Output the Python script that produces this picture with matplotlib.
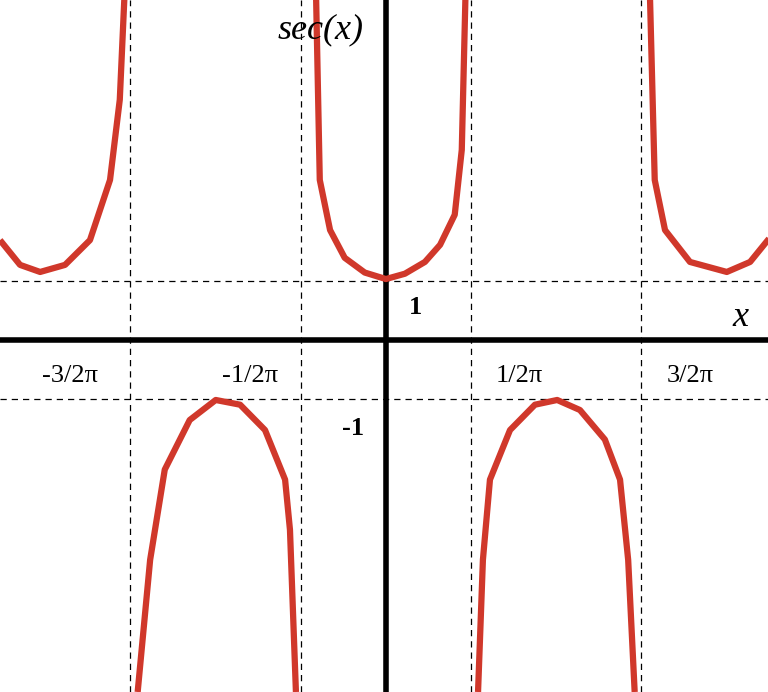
import numpy as np
import matplotlib.pyplot as plt

# branches of the curve (x in radians)
left_up_x = [-7.12, -6.75, -6.38, -5.92, -5.46, -5.09, -4.91, -4.82]
left_up_y = [1.69, 1.27, 1.15, 1.27, 1.69, 2.71, 4.07, 5.9]
mid_up_x = [-1.29, -1.22, -1.03, -0.76, -0.39, 0.0, 0.35, 0.72, 1.00, 1.27, 1.40, 1.47]
mid_up_y = [5.9, 2.71, 1.86, 1.39, 1.14, 1.03, 1.12, 1.32, 1.61, 2.12, 3.22, 5.9]
right_up_x = [4.87, 4.96, 5.15, 5.61, 6.29, 6.72, 7.10]
right_up_y = [5.9, 2.71, 1.86, 1.32, 1.15, 1.32, 1.75]
left_lo_x = [-4.58, -4.35, -4.08, -3.62, -3.14, -2.69, -2.23, -1.86, -1.77, -1.66]
left_lo_y = [-5.97, -3.73, -2.20, -1.36, -1.02, -1.10, -1.53, -2.37, -3.22, -5.97]
right_lo_x = [1.70, 1.79, 1.92, 2.29, 2.75, 3.16, 3.58, 4.04, 4.32, 4.47, 4.59]
right_lo_y = [-5.97, -3.73, -2.37, -1.53, -1.10, -1.02, -1.19, -1.69, -2.37, -3.73, -5.97]

asymptotes = [-3 * np.pi / 2, -np.pi / 2, np.pi / 2, 3 * np.pi / 2]
tick_labels = ['-3/2π', '-1/2π', '1/2π', '3/2π']
tick_label_x = [-5.83, -2.51, 2.47, 5.61]

fig = plt.figure(figsize=(7.68, 6.92), dpi=100)
ax = fig.add_axes([0, 0, 1, 1])
ax.set_xlim(-7.12, 7.05)
ax.set_ylim(-5.97, 5.76)
ax.axis('off')

for a in asymptotes:
    ax.axvline(a, color='black', lw=0.9, ls=(0, (5, 4)))
for h in [1, -1]:
    ax.axhline(h, color='black', lw=0.9, ls=(0, (5, 4)))
ax.axhline(0, color='black', lw=4)
ax.axvline(0, color='black', lw=4)

red = '#d0382b'
for bx, by in [(left_up_x, left_up_y), (mid_up_x, mid_up_y), (right_up_x, right_up_y),
               (left_lo_x, left_lo_y), (right_lo_x, right_lo_y)]:
    ax.plot(bx, by, color=red, lw=4.5, solid_capstyle='butt')

serif = 'Liberation Serif'
for lx, lab in zip(tick_label_x, tick_labels):
    ax.text(lx, -0.62, lab, fontsize=19, family=serif, ha='center', va='center')
ax.text(0.55, 0.55, '1', fontsize=19, family=serif, ha='center', va='center', weight='bold')
ax.text(-0.6, -1.5, '-1', fontsize=19, family=serif, ha='center', va='center', weight='bold')
ax.text(-1.2, 5.25, 'sec(x)', fontsize=26, family=serif, style='italic', ha='center', va='center')
ax.text(6.55, 0.38, 'x', fontsize=26, family=serif, style='italic', ha='center', va='center')

fig.savefig('out.png', dpi=100)
